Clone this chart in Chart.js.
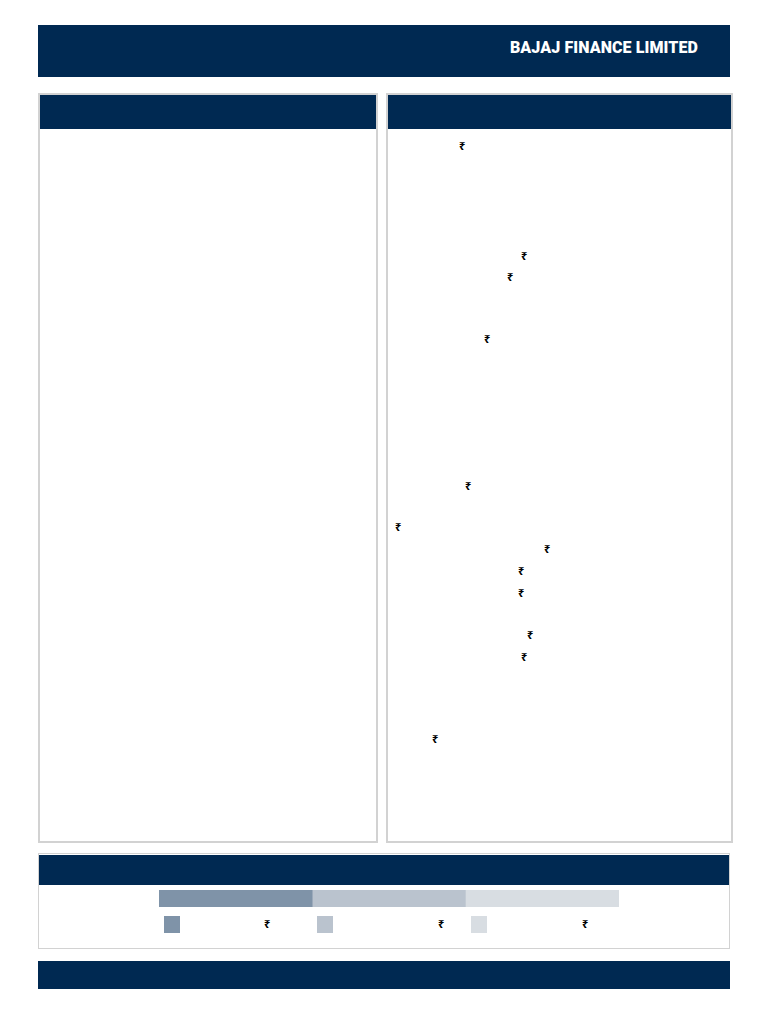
<!DOCTYPE html>
<html>
<head>
<meta charset="utf-8">
<script src="https://cdn.jsdelivr.net/npm/chart.js@4.4.0/dist/chart.umd.min.js"></script>
<style>
  html,body{margin:0;padding:0;background:#fff;}
  body{width:768px;height:1024px;position:relative;font-family:"Noto Sans","DejaVu Sans",sans-serif;overflow:hidden;}
  .navy{background:#002952;position:absolute;}
  .panel{position:absolute;border:2px solid #d2d2d2;box-sizing:border-box;background:#fff;}
  .rs{position:absolute;font-size:11px;font-weight:700;color:#000;line-height:12px;}
  #title{position:absolute;right:70px;top:38px;line-height:20px;color:#fff;font-family:Roboto,"Liberation Sans",sans-serif;font-weight:900;font-size:16px;letter-spacing:0.1px;}
  .lbox{position:absolute;width:16px;height:17px;top:916px;}
</style>
</head>
<body>
<script>
// ---- data ----
const categories = ['Segment A', 'Segment B', 'Segment C'];
const shareValues = [33.3, 33.3, 33.4];
const segmentColors = ['#7f93a8', '#bac3ce', '#d8dde2'];
const rupeeMarks = [
  [462,146],[524,256],[510,277],[487,339],[468,486],[398,527],
  [547,549],[521,571],[521,593],[530,635],[524,657],[435,739]
];
const legendRupee = [267, 441, 585];
</script>

<div class="navy" style="left:38px;top:25px;width:692px;height:52px;"></div>
<div id="title">BAJAJ FINANCE LIMITED</div>

<div class="panel" style="left:38px;top:93px;width:340px;height:750px;"></div>
<div class="navy" style="left:40px;top:95px;width:336px;height:34px;"></div>

<div class="panel" style="left:386px;top:93px;width:347px;height:750px;"></div>
<div class="navy" style="left:388px;top:95px;width:343px;height:34px;"></div>

<div class="panel" style="left:38px;top:853px;width:692px;height:96px;border-width:1px;"></div>
<div class="navy" style="left:39px;top:855px;width:690px;height:30px;"></div>

<div style="position:absolute;left:159px;top:890px;width:460px;height:17px;">
  <canvas id="bar"></canvas>
</div>

<div class="navy" style="left:38px;top:961px;width:692px;height:28px;"></div>

<script>
rupeeMarks.forEach(function(p){
  const s = document.createElement('span');
  s.className = 'rs';
  s.textContent = '₹';
  s.style.left = (p[0]-3) + 'px';
  s.style.top = (p[1]-6) + 'px';
  document.body.appendChild(s);
});
const boxLefts = [164, 317, 471];
categories.forEach(function(c, i){
  const b = document.createElement('div');
  b.className = 'lbox';
  b.style.left = boxLefts[i] + 'px';
  b.style.background = segmentColors[i];
  b.title = c;
  document.body.appendChild(b);
  const s = document.createElement('span');
  s.className = 'rs';
  s.textContent = '₹';
  s.style.left = (legendRupee[i]-3) + 'px';
  s.style.top = '918px';
  document.body.appendChild(s);
});

new Chart(document.getElementById('bar'), {
  type: 'bar',
  data: {
    labels: [''],
    datasets: categories.map(function(c, i){
      return {label: c, data: [shareValues[i]], backgroundColor: segmentColors[i],
              borderWidth: 0, barPercentage: 1, categoryPercentage: 1};
    })
  },
  options: {
    indexAxis: 'y',
    responsive: true,
    maintainAspectRatio: false,
    animation: false,
    layout: {padding: 0},
    plugins: {legend: {display: false}, tooltip: {enabled: false}},
    scales: {
      x: {stacked: true, display: false, min: 0, max: 100},
      y: {stacked: true, display: false}
    }
  }
});
</script>
</body>
</html>
